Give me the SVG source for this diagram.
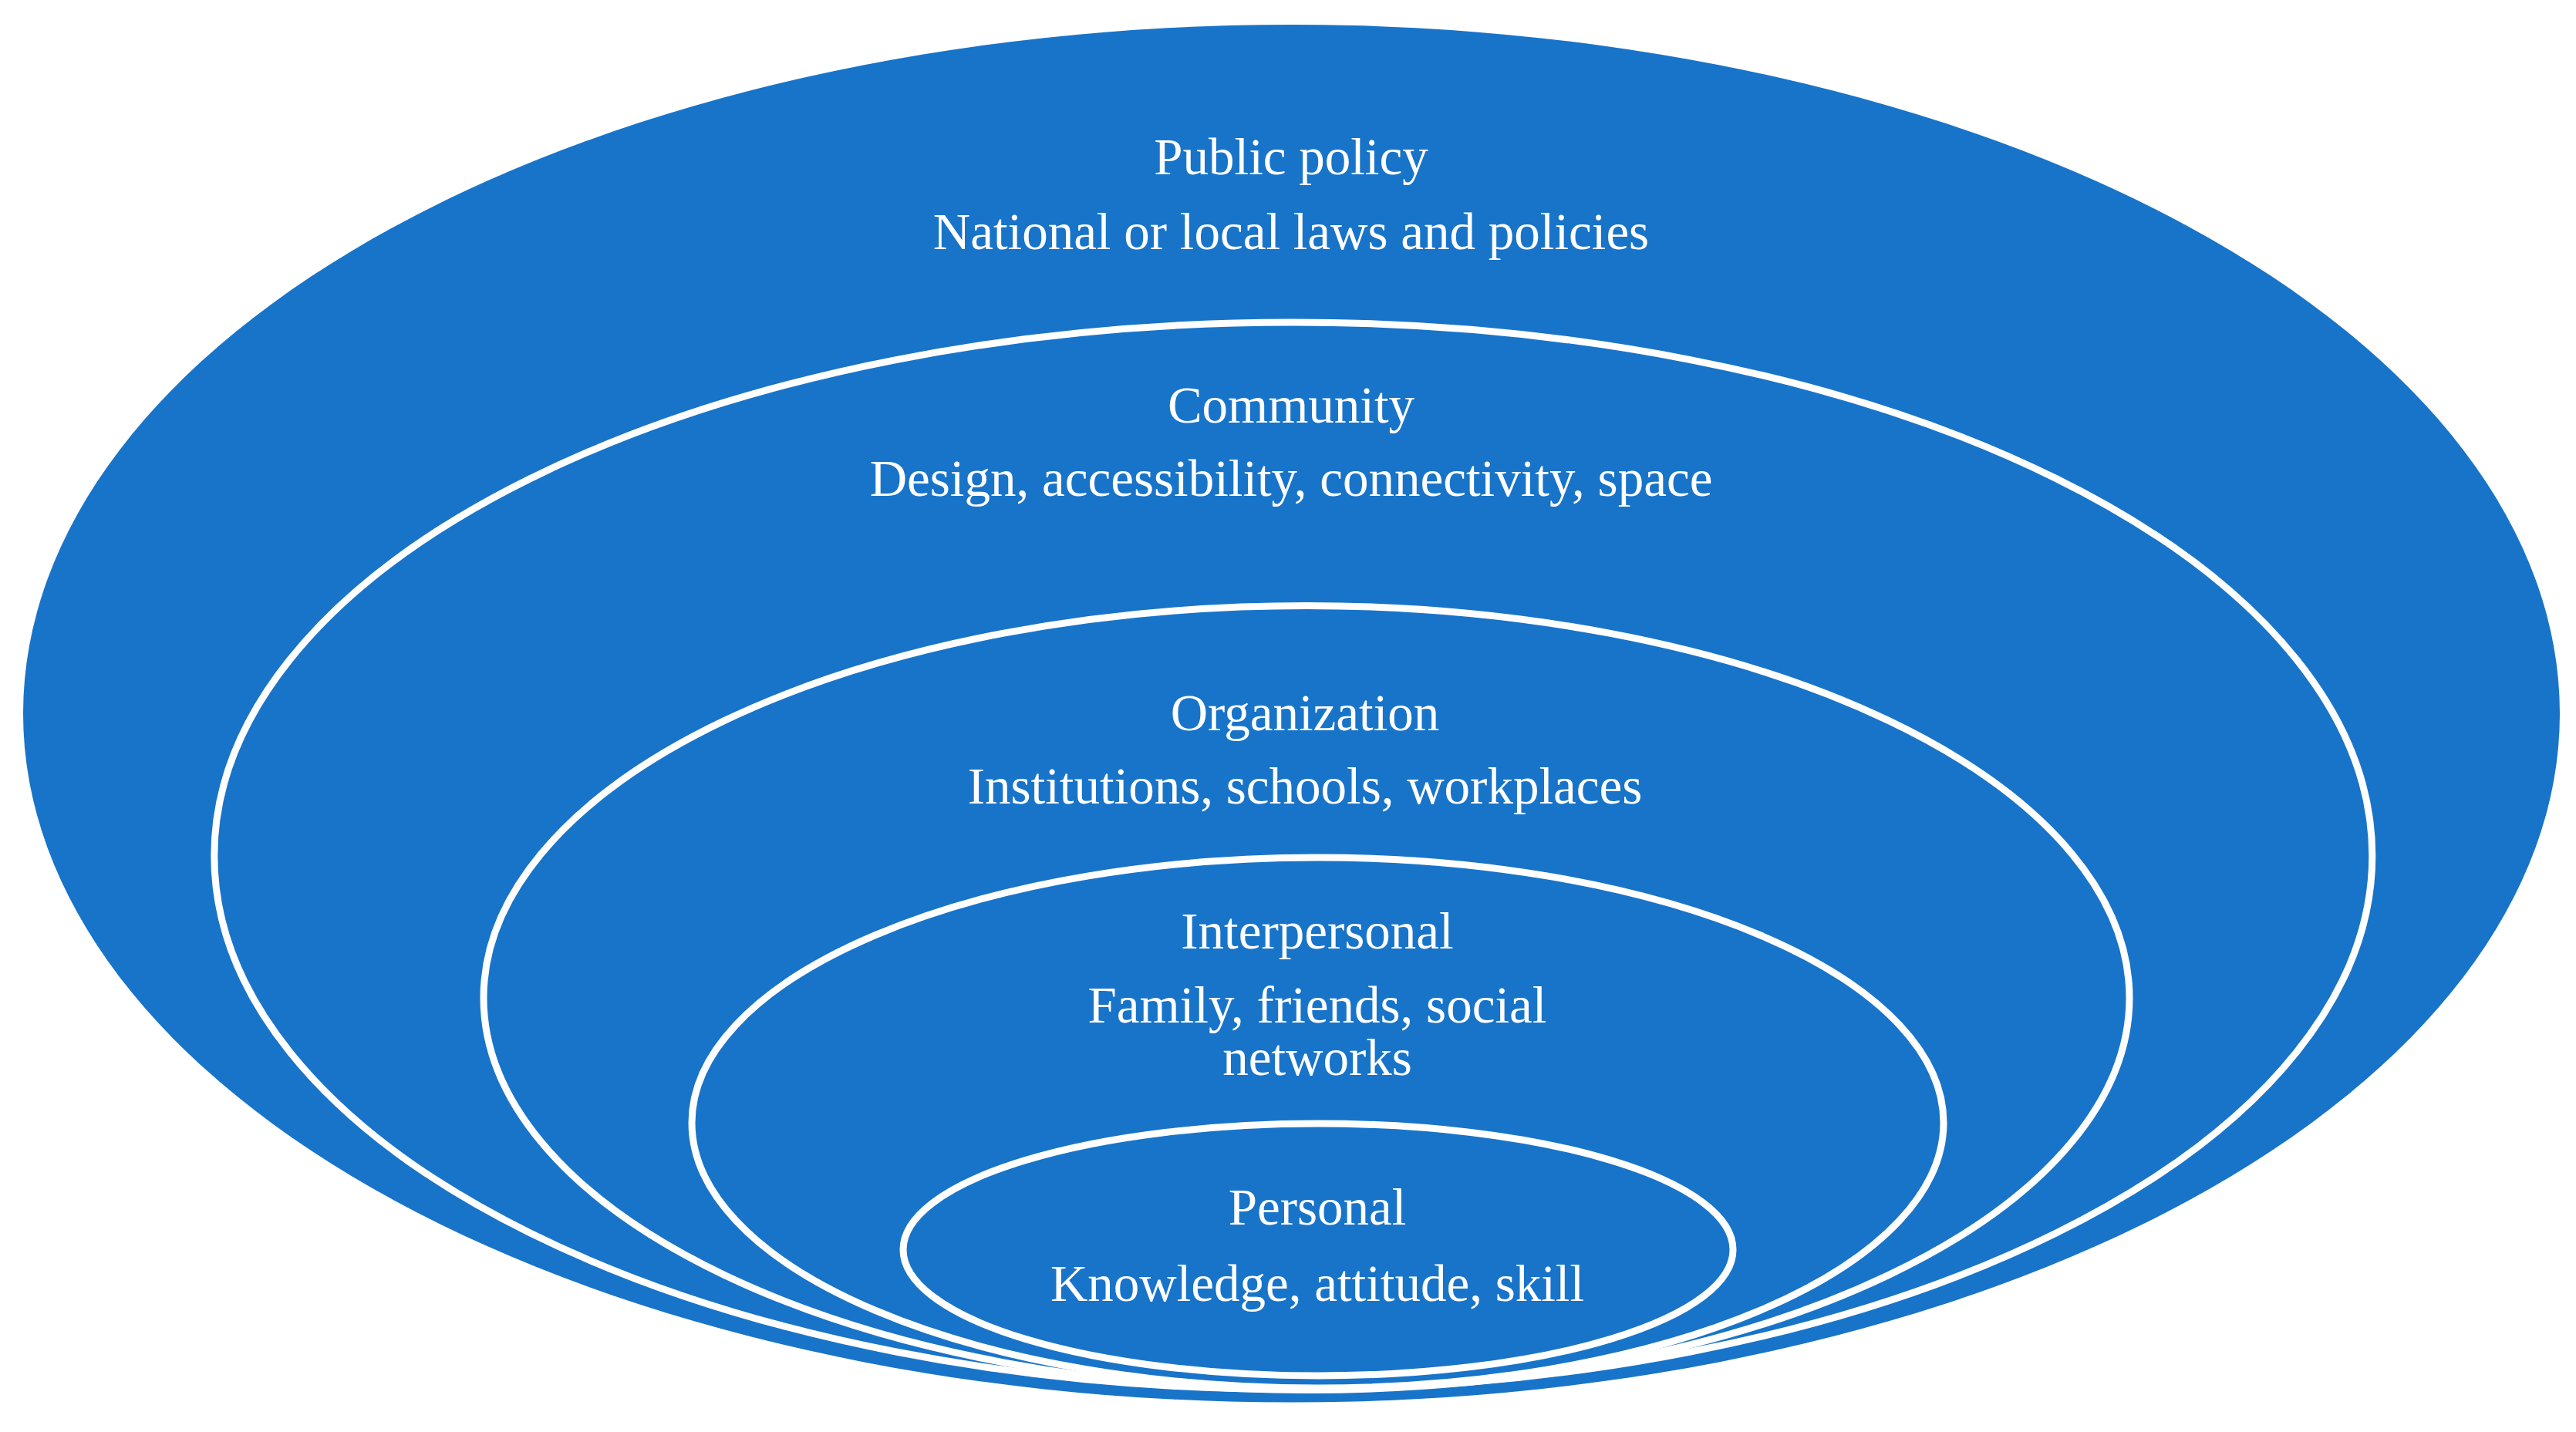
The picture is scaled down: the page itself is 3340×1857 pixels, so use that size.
<svg xmlns="http://www.w3.org/2000/svg" width="3340" height="1857" viewBox="0 0 3340 1857">
<style>
.ring{fill:#1874C9;stroke:#FFFFFF;stroke-width:9}
.outer{fill:#1874C9}
.t{font-family:"Liberation Serif","Times New Roman",serif;font-size:67px;fill:#FFFFFF;text-anchor:middle}
</style>
<rect x="0" y="0" width="3340" height="1857" fill="#FFFFFF"/>
<g id="public-policy">
<ellipse class="outer" cx="1674.5" cy="925.3" rx="1644.5" ry="893.3"/>
<text class="t" x="1674" y="226">Public policy</text>
<text class="t" x="1674" y="323">National or local laws and policies</text>
</g>
<g id="community">
<ellipse class="ring" cx="1676.8" cy="1109.8" rx="1399" ry="691.8"/>
<text class="t" x="1674" y="548">Community</text>
<text class="t" x="1674" y="643">Design, accessibility, connectivity, space</text>
</g>
<g id="organization">
<ellipse class="ring" cx="1694" cy="1294" rx="1067" ry="508.5"/>
<text class="t" x="1692" y="947">Organization</text>
<text class="t" x="1692" y="1042">Institutions, schools, workplaces</text>
</g>
<g id="interpersonal">
<ellipse class="ring" cx="1708.5" cy="1456" rx="811.5" ry="344"/>
<text class="t" x="1708" y="1230">Interpersonal</text>
<text class="t" x="1708" y="1326">Family, friends, social</text>
<text class="t" x="1708" y="1394">networks</text>
</g>
<g id="personal">
<ellipse class="ring" cx="1709" cy="1620.5" rx="538" ry="163.5"/>
<text class="t" x="1708" y="1588">Personal</text>
<text class="t" x="1708" y="1687">Knowledge, attitude, skill</text>
</g>
<g id="connectors"></g>
</svg>
